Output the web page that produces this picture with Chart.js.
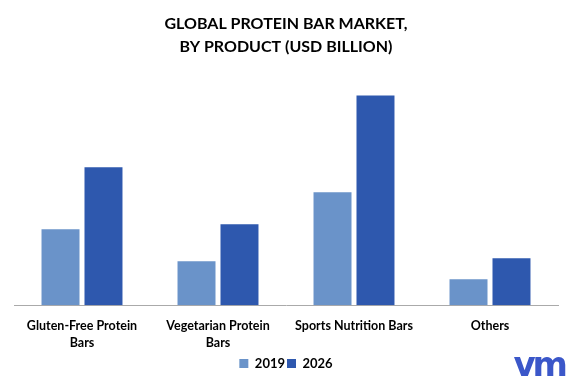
<!DOCTYPE html>
<html>
<head>
<meta charset="utf-8">
<script src="https://cdn.jsdelivr.net/npm/chart.js@4"></script>
<style>
    html, body { margin: 0; padding: 0; background: #fff; }
    .wrap { position: relative; width: 579px; height: 385px; }
    .logo {
        position: absolute; right: 14px; bottom: 4px;
        font: bold 34px 'DejaVu Sans', sans-serif; color: #3b57c9;
        letter-spacing: -3px; line-height: 1;
    }
</style>
</head>
<body>
<div class="wrap">
    <canvas id="chart" width="579" height="385"></canvas>
    <div class="logo">vm</div>
</div>
<script>
const categories = [
    ['Gluten-Free Protein', 'Bars'],
    ['Vegetarian Protein', 'Bars'],
    'Sports Nutrition Bars',
    'Others'
];
const values2019 = [0.76, 0.44, 1.13, 0.26];
const values2026 = [1.38, 0.81, 2.10, 0.47];
const titleLines = ['GLOBAL PROTEIN BAR MARKET,', 'BY PRODUCT (USD BILLION)'];

const ctx = document.getElementById('chart').getContext('2d');

new Chart(ctx, {
    type: 'bar',
    data: {
        labels: categories,
        datasets: [
            {
                label: '2019',
                data: values2019,
                backgroundColor: '#6a93c9',
                categoryPercentage: 0.632,
                barPercentage: 0.884
            },
            {
                label: '2026',
                data: values2026,
                backgroundColor: '#2e58ae',
                categoryPercentage: 0.632,
                barPercentage: 0.884
            }
        ]
    },
    options: {
        responsive: false,
        animation: false,
        layout: {
            padding: { left: 14, right: 21, top: 0, bottom: 5 }
        },
        plugins: {
            title: {
                display: true,
                text: titleLines,
                color: '#000',
                font: { family: 'Lato', size: 16, weight: 'bold', lineHeight: 1.45 },
                padding: { top: 12, bottom: 20 }
            },
            legend: {
                position: 'bottom',
                labels: {
                    color: '#000',
                    boxWidth: 9,
                    boxHeight: 9,
                    padding: 2,
                    font: { family: 'Lato', size: 13, weight: 'bold' }
                }
            },
            tooltip: { enabled: false }
        },
        scales: {
            x: {
                grid: { display: false },
                border: { color: '#aaaaaa', width: 1 },
                ticks: {
                    color: '#000',
                    padding: 4,
                    maxRotation: 0,
                    font: { family: 'Lato', size: 12.5, weight: 'bold', lineHeight: 1.35 }
                }
            },
            y: {
                display: false,
                min: 0,
                max: 2.27
            }
        }
    }
});
</script>
</body>
</html>
